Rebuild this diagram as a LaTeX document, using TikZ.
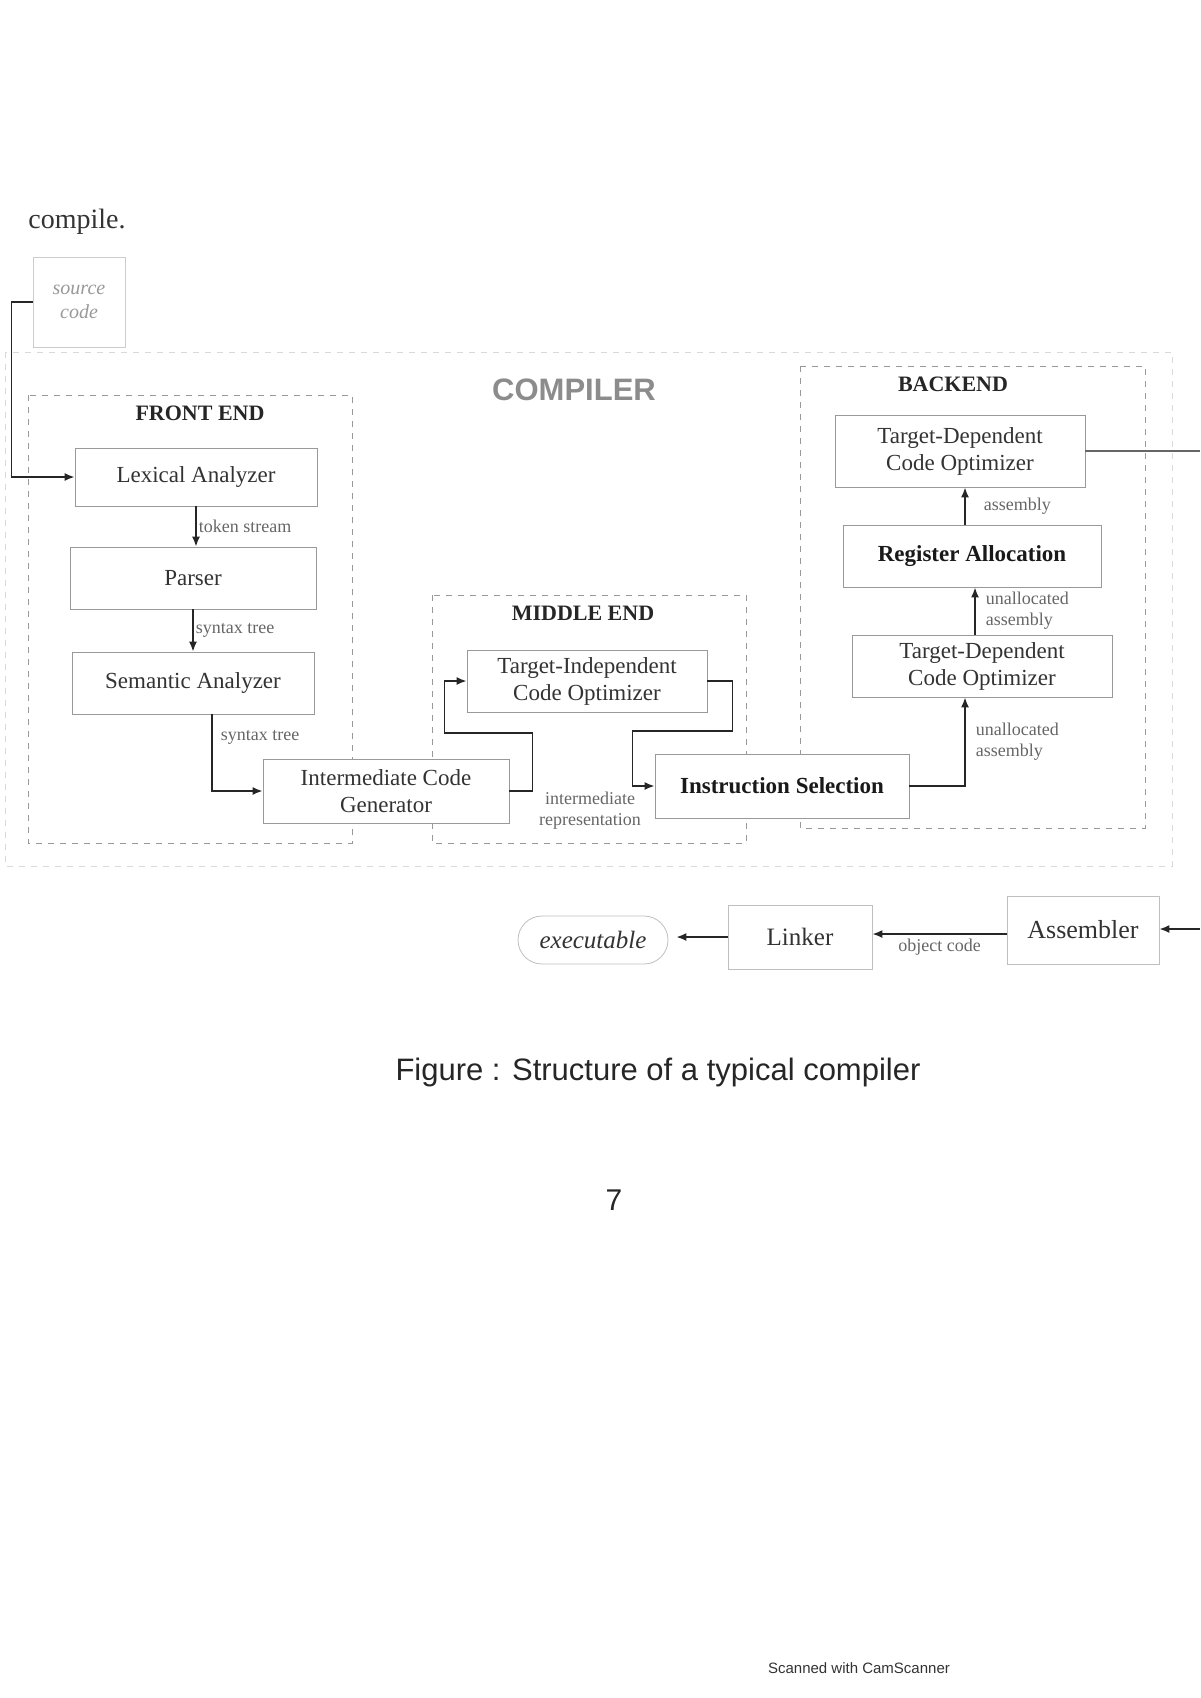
\documentclass[tikz,border=0pt]{standalone}
\usepackage{fontspec}
\setmainfont{Liberation Serif}
\newfontfamily\arialfont{Liberation Sans}
\usetikzlibrary{arrows.meta}

\begin{document}
\begin{tikzpicture}[
x=0.5pt, y=-0.5pt,
every node/.style={
text=black!80,
font=\fontsize{11.5}{13.5}\selectfont,
inner sep=2pt
},
stage/.style={
draw=black!40,
fill=white,
align=center,
minimum height=31pt
},
group/.style={draw=black!40, dashed},
tag/.style={font=\fontsize{11}{13}\selectfont\bfseries, text=black!85},
note/.style={font=\fontsize{9}{10.5}\selectfont, text=black!60, align=left, inner sep=1pt},
flow/.style={->, thick, draw=black!85},
>={Latex[length=5pt,width=4pt]}
]

\useasboundingbox (0,0) rectangle (1200,1698);

\node (intro) [anchor=west, font=\fontsize{14}{16}\selectfont] at (24,222) {compile.};

% grouping frames
\draw[group, draw=black!15] (5,352) rectangle (1172,866);
\draw[group] (28,395) rectangle (352,843);
\draw[group] (432,595) rectangle (746,843);
\draw[group] (800,366) rectangle (1145,828);

\node (title) [font=\arialfont\fontsize{15.5}{18}\selectfont\bfseries, text=black!45] at (574,390) {COMPILER};
\node (frontlbl) [tag] at (200,413) {FRONT END};
\node (middlelbl) [tag] at (583,613) {MIDDLE END};
\node (backlbl) [tag] at (953,384) {BACKEND};

\node (src) [stage, draw=black!20, minimum width=46pt, minimum height=45pt,
font=\fontsize{10}{12}\selectfont\itshape, text=black!40] at (79,302) {source\\code};

% front end
\node (lex) [stage, minimum width=121pt, minimum height=29pt] at (196,477) {Lexical Analyzer};
\node (parser) [stage, minimum width=123pt] at (193,578) {Parser};
\node (sem) [stage, minimum width=121pt] at (193,683) {Semantic Analyzer};
\node (icg) [stage, minimum width=123pt, minimum height=32pt] at (386,791) {Intermediate Code\\Generator};

% middle end
\node (tio) [stage, minimum width=120pt] at (587,681) {Target-Independent\\Code Optimizer};
\node (is) [stage, minimum width=127pt, minimum height=32pt,
font=\fontsize{11.5}{13.5}\selectfont\bfseries, text=black!90] at (782,786) {Instruction Selection};
\node (irlbl) [note, align=center] at (590,811) {intermediate\\representation};

% back end
\node (tdcotop) [stage, minimum width=125pt, minimum height=36pt] at (960,451) {Target-Dependent\\Code Optimizer};
\node (ra) [stage, minimum width=129pt, font=\fontsize{11.5}{13.5}\selectfont\bfseries, text=black!90] at (972,556) {Register Allocation};
\node (tdcolow) [stage, minimum width=130pt] at (982,666) {Target-Dependent\\Code Optimizer};

% tools
\node (exe) [stage, draw=black!25, rounded corners=12pt, minimum width=75pt, minimum height=24pt,
font=\fontsize{12.5}{15}\selectfont\itshape] at (593,940) {executable};
\node (linker) [stage, draw=black!25, minimum width=72pt, minimum height=32pt,
font=\fontsize{12.5}{15}\selectfont] at (800,937) {Linker};
\node (asm) [stage, draw=black!25, minimum width=76pt, minimum height=34pt,
font=\fontsize{13}{15}\selectfont] at (1083,930) {Assembler};

\coordinate (outR) at (1200,451);
\coordinate (inR) at (1200,929);

\draw[flow] (src.west) -- ++(-21,0) |- (lex.west);
\draw[flow] (lex.south) -- (lex.south |- parser.north)
node[note, right, midway] (toklbl) {token stream};
\draw[flow] (parser.south) -- (parser.south |- sem.north)
node[note, right, midway] (treelbl) {syntax tree};
\draw[flow] ([xshift=9.5pt]sem.south) |- (icg.west)
node[note, right=3pt, pos=0.15] (treelbltwo) {syntax tree};
\draw[flow] (icg.east) -- ++(23,0) |- ([xshift=-11pt,yshift=-26pt]tio.west) |- (tio.west);
\draw[flow] (tio.east) -- ++(25,0) |- ([xshift=-11pt,yshift=27.5pt]is.west) |- (is.west);
\draw[flow] (is.east) -| ([xshift=-8.5pt]tdcolow.south)
node[note, right=4pt, pos=0.75] (unalbl) {unallocated\\assembly};
\draw[flow] ([xshift=-3.5pt]tdcolow.north) -- ([xshift=-3.5pt]tdcolow.north |- ra.south)
node[note, right=4pt, midway] (unalbltwo) {unallocated\\assembly};
\draw[flow] ([xshift=-3.5pt]ra.north) -- ([xshift=-3.5pt]ra.north |- tdcotop.south)
node[note, right=8pt, midway] (asmlbl) {assembly};
\draw[thick, draw=black!60] (tdcotop.east) -- (outR);
\draw[flow] (inR) -- (inR -| asm.east);
\draw[flow] ([yshift=-2pt]asm.west) -- ([yshift=-2pt]asm.west -| linker.east)
node[note, below=1pt, midway] (objlbl) {object code};
\draw[flow, shorten >=4pt] (linker.west) -- (linker.west -| exe.east);

\node (caption) [font=\arialfont\fontsize{15.5}{18}\selectfont, text=black!85] at (658,1072) {Figure : Structure of a typical compiler};
\node (pageno) [font=\arialfont\fontsize{15}{18}\selectfont, text=black!85] at (614,1200) {7};
\node (scanmark) [font=\arialfont\fontsize{7.5}{9}\selectfont, text=black!80] at (859,1668) {Scanned with CamScanner};

\end{tikzpicture}
\end{document}
